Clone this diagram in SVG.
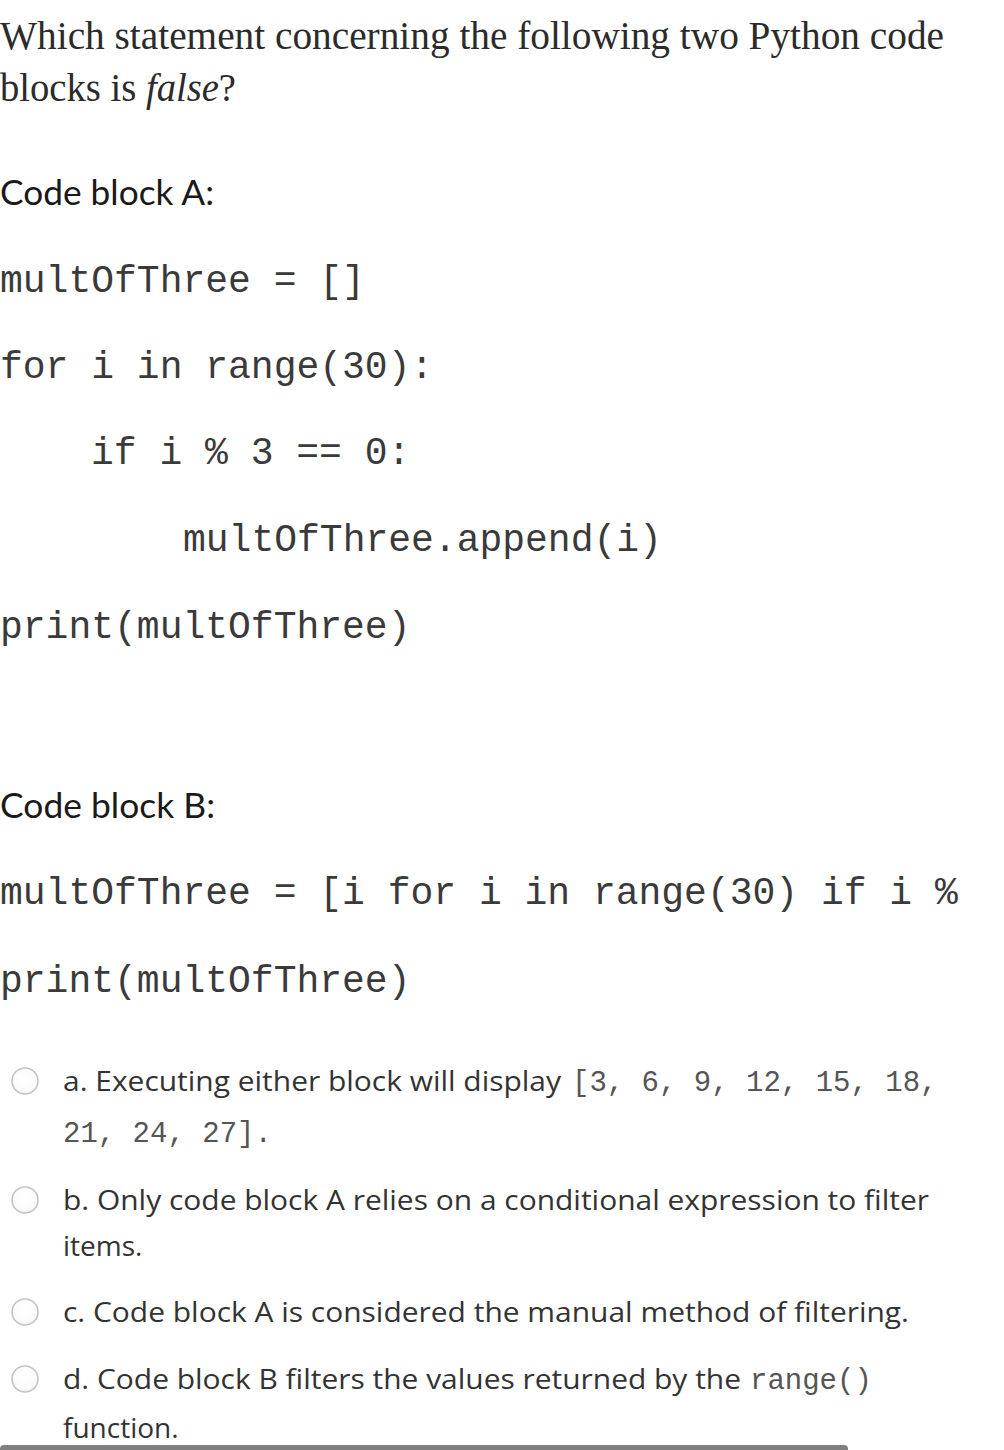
<svg xmlns="http://www.w3.org/2000/svg" width="1004" height="1450" viewBox="0 0 1004 1450">
<style>
.title{font-family:"Liberation Serif","Times New Roman",serif;font-size:40px;fill:#2b2b2b}
.label{font-family:Lato,"Liberation Sans",sans-serif;font-size:35px;fill:#1a1a1a}
.code{font-family:"Liberation Mono","Courier New",monospace;font-size:38px;fill:#3a3a3a}
.opt{font-family:"Open Sans","Liberation Sans",sans-serif;font-size:28px;fill:#333}
.mono{font-family:"Liberation Mono","Courier New",monospace;font-size:29px;fill:#555}
.radio{fill:url(#rg);stroke:#c4c4c4;stroke-width:1.6}
</style>
<defs>
<radialGradient id="rg" cx="0.5" cy="0.4" r="0.6">
<stop offset="0" stop-color="#ffffff"/>
<stop offset="0.8" stop-color="#fbfbfb"/>
<stop offset="1" stop-color="#ececec"/>
</radialGradient>
</defs>
<rect width="1004" height="1450" fill="#fff"/>
<g id="question">
<text class="title" x="0" y="49" textLength="944" lengthAdjust="spacingAndGlyphs">Which statement concerning the following two Python code</text>
<text class="title" x="0" y="101" textLength="236" lengthAdjust="spacingAndGlyphs">blocks is <tspan font-style="italic">false</tspan>?</text>
</g>
<g id="blockA">
<text class="label" x="0" y="205" textLength="214" lengthAdjust="spacingAndGlyphs">Code block A:</text>
<text class="code" x="0" y="292">multOfThree = []</text>
<text class="code" x="0" y="378">for i in range(30):</text>
<text class="code" x="91" y="464">if i % 3 == 0:</text>
<text class="code" x="183" y="551">multOfThree.append(i)</text>
<text class="code" x="0" y="638">print(multOfThree)</text>
</g>
<g id="blockB">
<text class="label" x="0" y="818" textLength="215" lengthAdjust="spacingAndGlyphs">Code block B:</text>
<text class="code" x="0" y="904">multOfThree = [i for i in range(30) if i %</text>
<text class="code" x="0" y="992">print(multOfThree)</text>
</g>
<g id="optionA">
<circle class="radio" cx="25" cy="1081" r="13"/>
<text class="opt" x="63" y="1091" textLength="498" lengthAdjust="spacingAndGlyphs">a. Executing either block will display</text>
<text class="mono" x="572" y="1091">[3, 6, 9, 12, 15, 18,</text>
<text class="mono" x="63" y="1142">21, 24, 27].</text>
</g>
<g id="optionB">
<circle class="radio" cx="25" cy="1200" r="13"/>
<text class="opt" x="63" y="1210" textLength="866" lengthAdjust="spacingAndGlyphs">b. Only code block A relies on a conditional expression to filter</text>
<text class="opt" x="63" y="1256">items.</text>
</g>
<g id="optionC">
<circle class="radio" cx="25" cy="1312" r="13"/>
<text class="opt" x="63" y="1322" textLength="846" lengthAdjust="spacingAndGlyphs">c. Code block A is considered the manual method of filtering.</text>
</g>
<g id="optionD">
<circle class="radio" cx="25" cy="1379" r="13"/>
<text class="opt" x="63" y="1389" textLength="678" lengthAdjust="spacingAndGlyphs">d. Code block B filters the values returned by the</text>
<text class="mono" x="750" y="1389" font-size="28">range()</text>
<text class="opt" x="63" y="1438">function.</text>
</g>
<rect x="0" y="1445" width="848" height="12" rx="4" fill="#7f7f7f"/>
</svg>
